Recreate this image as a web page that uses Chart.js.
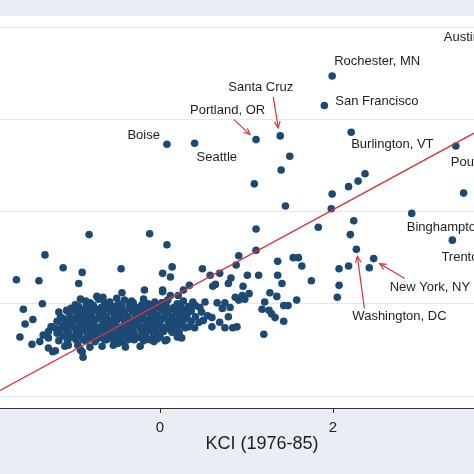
<!DOCTYPE html>
<html lang="en">
<head>
<meta charset="UTF-8">
<title>KCI scatter</title>
<script src="https://cdn.jsdelivr.net/npm/chart.js"></script>
<style>
  html, body { margin: 0; padding: 0; background: #e8eef3; }
  #wrap { width: 474px; height: 474px; }
</style>
</head>
<body>
<div id="wrap"><canvas id="kciChart" width="474" height="474"></canvas></div>
<script>
// labelled places
const cityNames = ['Rochester, MN', 'San Francisco', 'Boise', 'Seattle', 'Portland, OR', 'Santa Cruz',
  'Burlington, VT', 'Poughkeepsie', 'Binghampton', 'Trenton', 'Washington, DC', 'New York, NY', 'Austin'];
const cityKci = [1.99, 1.90, 0.08, 0.40, 1.11, 1.39, 2.21, 3.42, 2.91, 3.38, 2.27, 2.47, 3.72];
const cityY   = [3.47, 3.15, 2.73, 2.74, 2.78, 2.82, 2.86, 2.71, 1.98, 1.69, 1.59, 1.49, 3.74];

// all the other places (one row per group)
const otherKci = [
  1.50, 1.40, 1.09, 1.45, 1.99, 2.18, 2.29, 2.37, 1.98, 2.24,
  1.83, 1.11, 2.20, 3.51, -0.82, -0.12, 2.42, 2.18, 2.07, 2.07,
  2.05, 0.08, -1.33, 0.91, 0.88, 0.49, 0.14, 0.03, 0.12, 0.58,
  0.69, 0.82, 0.79, 0.64, 0.34, 1.01, 0.96, 0.03, 0.27, -1.12,
  -0.90, -0.45, -1.66, -1.40, -0.94, -0.18, -1.36, -1.58, -1.47, -1.56,
  -1.62, -1.48, 1.11, 1.36, 1.54, 1.60, 1.64, 1.14, 1.36, 1.41,
  1.75, 1.27, 1.35, 1.03, 0.98, 0.91, 1.58, 1.21, 1.18, 1.26,
  1.43, 1.48, 1.29, 1.33, 1.43, 0.89, 1.20, 0.61, 0.87, 0.95,
  0.66, 0.75, 0.72, 0.81, 0.52, 0.46, 0.60, 0.79, 0.69, 0.75,
  0.60, 0.84, 0.50, 0.40, 0.29, 0.25, -1.24, -0.90, -0.49, 0.06,
  0.20, -0.73, -0.92, -0.98, -0.81, -1.17, -1.08, -0.90, -0.79, -1.25,
  -1.35, -1.39, -1.29, -1.29, -1.21, -1.19, -1.06, -0.92, -0.89, -0.44,
  -0.66, -0.50, 0.03, 0.12, 0.21, -0.21, 0.02, 0.08, 0.14, 0.20,
  // dense cloud
  -0.86, -0.71, -0.58, -0.41, -0.33, -0.19, -0.06, 0.09, 0.27, 0.38,
  -0.80, -0.64, -0.48, -0.31, -0.14, 0.03, 0.20,
  -0.94, -0.85, -0.77, -0.68, -0.60, -0.52, -0.44, -0.35, -0.27, -0.18, -0.10, -0.01, 0.07, 0.16, 0.24, 0.33, 0.41,
  -1.03, -0.95, -0.86, -0.78, -0.70, -0.62, -0.53, -0.45, -0.36, -0.28, -0.20, -0.11, -0.03, 0.06, 0.15, 0.23, 0.31,
  -1.07, -0.99, -0.90, -0.82, -0.74, -0.66, -0.57, -0.49, -0.41, -0.32, -0.24, -0.15, -0.07, 0.02, 0.10, 0.19, 0.27, 0.36, 0.48,
  -1.15, -1.04, -0.95, -0.87, -0.79, -0.70, -0.62, -0.53, -0.45, -0.37, -0.28, -0.20, -0.11, -0.03, 0.06, 0.14, 0.23, 0.31, 0.41, 0.55,
  -1.12, -1.04, -0.96, -0.87, -0.79, -0.71, -0.62, -0.54, -0.46, -0.37, -0.29, -0.20, -0.12, -0.03, 0.05, 0.14, 0.22, 0.31,
  -1.19, -1.09, -1.00, -0.92, -0.83, -0.75, -0.66, -0.58, -0.50, -0.41, -0.33, -0.24, -0.16, -0.07, 0.01, 0.10, 0.18, 0.27, 0.36, 0.45,
  -1.26, -1.13, -1.03, -0.95, -0.86, -0.78, -0.69, -0.61, -0.53, -0.44, -0.36, -0.27, -0.19, -0.10, -0.02, 0.07, 0.15, 0.24, 0.33,
  -1.20, -1.08, -0.99, -0.91, -0.82, -0.74, -0.65, -0.57, -0.48, -0.40, -0.32, -0.23, -0.15, -0.06, 0.03, 0.11, 0.19,
  -1.29, -1.16, -1.06, -0.97, -0.89, -0.80, -0.72, -0.63, -0.55, -0.47, -0.38, -0.30, -0.21, -0.13, -0.04, 0.04, 0.13, 0.22,
  -1.12, -1.01, -0.93, -0.84, -0.76, -0.67, -0.59, -0.50, -0.42, -0.34, -0.25, -0.17, -0.08, 0.00,
  -1.06, -0.97, -0.89, -0.80, -0.71, -0.62, -0.55, -0.46, -0.37, -0.29, -0.21, -0.12, -0.03,
  -1.17, -1.07, -0.97, -0.86, -0.75, -0.64, -0.53, -0.42, -0.30, -0.19, -0.07,
  -1.10, -0.95, -0.81, -0.67, -0.54, -0.40, -0.23
];
const otherY = [
  2.60, 2.45, 2.30, 2.06, 2.19, 2.27, 2.33, 2.41, 2.03, 1.90,
  1.83, 1.81, 1.75, 2.20, 1.75, 1.76, 1.39, 1.41, 1.38, 1.20,
  1.07, 1.64, 1.53, 1.52, 1.42, 1.38, 1.40, 1.33, 1.29, 1.31,
  1.33, 1.28, 1.22, 1.21, 1.20, 1.31, 1.19, 1.15, 1.15, 1.39,
  1.34, 1.38, 1.26, 1.25, 1.22, 1.15, 1.00, 0.94, 0.83, 0.78,
  0.64, 0.56, 1.58, 1.46, 1.50, 1.50, 1.41, 1.31, 1.31, 1.22,
  1.25, 1.12, 1.08, 1.11, 1.05, 1.04, 1.04, 1.02, 0.94, 0.93,
  0.98, 0.98, 0.89, 0.85, 0.81, 0.75, 0.67, 1.19, 1.07, 1.09,
  1.01, 1.01, 0.95, 0.96, 1.02, 0.96, 0.85, 0.86, 0.80, 0.74,
  0.75, 0.74, 0.82, 0.74, 0.74, 0.63, 0.48, 0.48, 0.57, 0.60,
  0.64, 1.08, 1.05, 0.99, 1.01, 0.91, 0.93, 0.90, 0.91, 0.75,
  0.66, 0.59, 0.63, 0.52, 0.49, 0.68, 0.55, 0.50, 0.42, 1.12,
  1.07, 1.06, 1.13, 1.09, 1.09, 0.99, 1.01, 0.61, 0.69, 0.77,
  // dense cloud
  1.03, 1.05, 1.02, 1.04, 1.03, 1.05, 1.02, 1.04, 1.03, 1.02,
  1.00, 1.01, 1.00, 1.01, 1.00, 1.01, 1.00,
  0.97, 0.99, 0.98, 0.96, 0.99, 0.97, 0.98, 0.99, 0.96, 0.98, 0.99, 0.97, 0.98, 0.96, 0.99, 0.97, 0.98,
  0.95, 0.94, 0.95, 0.96, 0.94, 0.95, 0.96, 0.94, 0.95, 0.96, 0.94, 0.95, 0.96, 0.94, 0.95, 0.96, 0.94,
  0.92, 0.93, 0.91, 0.92, 0.93, 0.91, 0.92, 0.93, 0.91, 0.92, 0.93, 0.92, 0.91, 0.93, 0.92, 0.91, 0.93, 0.92, 0.91,
  0.86, 0.87, 0.88, 0.86, 0.87, 0.88, 0.86, 0.87, 0.88, 0.86, 0.87, 0.88, 0.86, 0.87, 0.88, 0.86, 0.87, 0.88, 0.86, 0.87,
  0.84, 0.83, 0.85, 0.84, 0.83, 0.85, 0.84, 0.83, 0.85, 0.84, 0.83, 0.85, 0.84, 0.83, 0.85, 0.84, 0.83, 0.85,
  0.81, 0.80, 0.82, 0.81, 0.80, 0.82, 0.81, 0.80, 0.82, 0.81, 0.80, 0.82, 0.81, 0.80, 0.82, 0.81, 0.80, 0.82, 0.81, 0.80,
  0.75, 0.76, 0.77, 0.75, 0.76, 0.77, 0.75, 0.76, 0.77, 0.75, 0.76, 0.77, 0.75, 0.76, 0.77, 0.75, 0.76, 0.77, 0.75,
  0.73, 0.72, 0.74, 0.73, 0.72, 0.74, 0.73, 0.72, 0.74, 0.73, 0.72, 0.74, 0.73, 0.72, 0.74, 0.73, 0.72,
  0.70, 0.71, 0.69, 0.70, 0.71, 0.69, 0.70, 0.71, 0.69, 0.70, 0.71, 0.69, 0.70, 0.71, 0.69, 0.70, 0.71, 0.69,
  0.65, 0.64, 0.66, 0.65, 0.64, 0.66, 0.65, 0.64, 0.66, 0.65, 0.64, 0.66, 0.65, 0.64,
  0.62, 0.63, 0.61, 0.62, 0.63, 0.61, 0.62, 0.63, 0.61, 0.62, 0.63, 0.61, 0.62,
  0.60, 0.59, 0.61, 0.60, 0.59, 0.61, 0.60, 0.58, 0.61, 0.60, 0.59,
  0.54, 0.55, 0.53, 0.54, 0.55, 0.53, 0.54
];

// fitted line end points
const fitKci = [-1.85, 3.63];
const fitY = [0.06, 2.85];

// axis ticks / grid
const xTicks = [0, 2];
const yGrid = [0, 1, 2, 3, 4];
const xTitle = 'KCI (1976-85)';

const allKci = cityKci.concat(otherKci);
const allY = cityY.concat(otherY);
const points = allKci.map((v, i) => ({ x: v, y: allY[i] }));
const fitPoints = fitKci.map((v, i) => ({ x: v, y: fitY[i] }));

// where each name sits relative to its dot (px), plus optional arrow
const placement = {
  'Rochester, MN':  { dx: 2, dy: -15, align: 'left' },
  'San Francisco':  { dx: 11, dy: -4, align: 'left' },
  'Boise':          { dx: -7, dy: -9, align: 'right' },
  'Seattle':        { dx: 2, dy: 14, align: 'left' },
  'Portland, OR':   { dx: -66, dy: -29, align: 'left', arrow: [-22, -20, -6, -5] },
  'Santa Cruz':     { dx: -52, dy: -48, align: 'left', arrow: [-7, -39, -2, -8] },
  'Burlington, VT': { dx: 0, dy: 12, align: 'left' },
  'Poughkeepsie':   { dx: -5, dy: 16, align: 'left' },
  'Binghampton':    { dx: -5, dy: 14, align: 'left' },
  'Trenton':        { dx: -11, dy: 17, align: 'left' },
  'Washington, DC': { dx: -4, dy: 67, align: 'left', arrow: [8, 59, 1, 7] },
  'New York, NY':   { dx: 16, dy: 29, align: 'left', arrow: [31, 20, 6, 5] },
  'Austin':         { dx: -38, dy: -14, align: 'left' }
};

function drawArrow(ctx, x1, y1, x2, y2) {
  ctx.beginPath();
  ctx.moveTo(x1, y1);
  ctx.lineTo(x2, y2);
  ctx.stroke();
  const a = Math.atan2(y2 - y1, x2 - x1);
  const len = 7, spread = 0.42;
  ctx.beginPath();
  ctx.moveTo(x2 - len * Math.cos(a - spread), y2 - len * Math.sin(a - spread));
  ctx.lineTo(x2, y2);
  ctx.lineTo(x2 - len * Math.cos(a + spread), y2 - len * Math.sin(a + spread));
  ctx.stroke();
}

const stataLook = {
  id: 'stataLook',
  beforeDraw(chart) {
    const ctx = chart.ctx, a = chart.chartArea;
    ctx.save();
    ctx.fillStyle = '#e8eef3';
    ctx.fillRect(0, 0, chart.width, chart.height);
    ctx.fillStyle = '#ffffff';
    ctx.fillRect(a.left, a.top, a.right - a.left, a.bottom - a.top);
    ctx.restore();
  },
  afterDatasetsDraw(chart) {
    const ctx = chart.ctx;
    const xs = chart.scales.x, ys = chart.scales.y;
    ctx.save();
    ctx.font = '13px "Liberation Sans", Arial, sans-serif';
    ctx.fillStyle = '#1e1e1e';
    ctx.textBaseline = 'middle';
    ctx.strokeStyle = '#d8343a';
    ctx.lineWidth = 1.2;
    cityNames.forEach((name, i) => {
      const p = placement[name];
      const px = xs.getPixelForValue(cityKci[i]);
      const py = ys.getPixelForValue(cityY[i]);
      ctx.textAlign = p.align;
      ctx.fillText(name, px + p.dx, py + p.dy);
      if (p.arrow) {
        drawArrow(ctx, px + p.arrow[0], py + p.arrow[1], px + p.arrow[2], py + p.arrow[3]);
      }
    });
    ctx.restore();
  },
  afterDraw(chart) {
    const ctx = chart.ctx;
    ctx.save();
    ctx.font = '18px "Liberation Sans", Arial, sans-serif';
    ctx.fillStyle = '#1e1e1e';
    ctx.textAlign = 'center';
    ctx.textBaseline = 'middle';
    ctx.fillText(xTitle, 262, 444);
    ctx.restore();
  }
};

const ctx = document.getElementById('kciChart').getContext('2d');
new Chart(ctx, {
  type: 'scatter',
  data: {
    datasets: [
      {
        type: 'line',
        data: fitPoints,
        borderColor: '#d8343a',
        borderWidth: 1.4,
        pointRadius: 0,
        fill: false,
        order: 0
      },
      {
        data: points,
        backgroundColor: '#1c4a74',
        borderWidth: 0,
        pointRadius: 3.8,
        order: 1
      }
    ]
  },
  options: {
    responsive: false,
    animation: false,
    devicePixelRatio: 1,
    layout: { autoPadding: false, padding: { top: 16, left: 0, right: 0, bottom: 0 } },
    plugins: {
      legend: { display: false },
      tooltip: { enabled: false }
    },
    scales: {
      x: {
        type: 'linear',
        position: 'bottom',
        min: -1.85,
        max: 3.63,
        afterBuildTicks: s => { s.ticks = xTicks.map(v => ({ value: v })); },
        afterFit: s => { s.height = 66; },
        grid: { drawOnChartArea: false, drawTicks: true, tickLength: 5, color: '#333333', lineWidth: 1 },
        border: { display: true, color: '#333333', width: 1 },
        ticks: {
          padding: 6,
          maxRotation: 0,
          color: '#1e1e1e',
          font: { family: '"Liberation Sans", Arial, sans-serif', size: 15 }
        }
      },
      y: {
        type: 'linear',
        min: -0.13,
        max: 4.12,
        afterBuildTicks: s => { s.ticks = yGrid.map(v => ({ value: v })); },
        afterFit: s => { s.width = 0; },
        grid: { drawTicks: false, color: '#e2e8ec', lineWidth: 1 },
        border: { display: false },
        ticks: { display: false }
      }
    }
  },
  plugins: [stataLook]
});
</script>
</body>
</html>
